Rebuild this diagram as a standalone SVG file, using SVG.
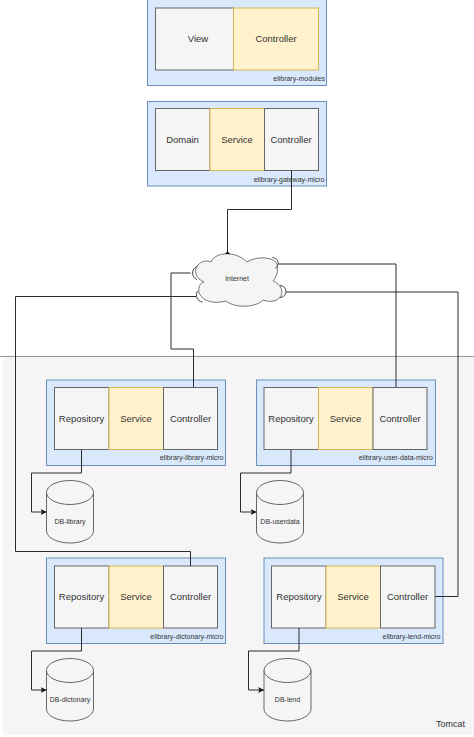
<svg xmlns="http://www.w3.org/2000/svg" width="474" height="737" viewBox="0 0 474 737">
<style>
text{font-family:"Liberation Sans",Arial,sans-serif;fill:#333}
.wrap{fill:#dae8fc;stroke:#6c8ebf;stroke-width:1}
.gray{fill:#f5f5f5;stroke:#666;stroke-width:1}
.yellow{fill:#fff2cc;stroke:#d6b656;stroke-width:1}
.lbl{font-size:9.5px;text-anchor:middle}
.small{font-size:7px}
.end{text-anchor:end}
.mid{text-anchor:middle}
.db{fill:#f5f5f5;stroke:#666;stroke-width:1}
.dbtop{fill:none;stroke:#666;stroke-width:1}
.conn{fill:none;stroke:#2b2b2b;stroke-width:1}
.req{fill:none;stroke:#444;stroke-width:1}
</style>
<defs>
<marker id="arrow" markerUnits="userSpaceOnUse" markerWidth="7" markerHeight="7" refX="6" refY="3.5" orient="auto">
<path d="M0 0.5L6 3.5L0 6.5L1.5 3.5Z" fill="#111"/>
</marker>
</defs>

<g id="tomcat">
<rect x="3" y="357" width="471" height="378" fill="#f5f5f5"/>
<path d="M0 356.5H474" fill="none" stroke="#999"/>
<text x="465" y="727" font-size="9" class="end">Tomcat</text>
</g>

<g id="elibrary-modules">
<rect class="wrap" x="147.5" y="-1" width="179" height="86.5"/>
<rect class="gray" x="155.5" y="8" width="78" height="62"/>
<rect class="yellow" x="233.5" y="8" width="85" height="62"/>
<text class="lbl" x="198" y="41.5">View</text>
<text class="lbl" x="276" y="41.5">Controller</text>
<text class="small end" x="325" y="81">elibrary-modules</text>
</g>

<g id="elibrary-gateway-micro">
<rect class="wrap" x="147.5" y="101.5" width="179" height="84.5"/>
<rect class="gray" x="155.5" y="108.5" width="54.5" height="62"/>
<rect class="yellow" x="210" y="108.5" width="54.5" height="62"/>
<rect class="gray" x="264.5" y="108.5" width="54" height="62"/>
<text class="lbl" x="182.5" y="142.5">Domain</text>
<text class="lbl" x="237" y="142.5">Service</text>
<text class="lbl" x="291" y="142.5">Controller</text>
<text class="small end" x="324.5" y="181.5">elibrary-gateway-micro</text>
</g>

<g id="internet">
<path d="M211 262C213 256 222 253 229 254C236 254 243 258 247 262C254 257 270 256 276 262C279 268 278 274 273 281C281 284 285 293 279 298C276 302 268 302 263 300C257 307 236 309 226 301C215 304 203 302 199 293C198 287 200 283 204 282C196 279 193 270 198 265C201 261 207 260 211 262Z" fill="#f5f5f5" stroke="#777"/>
<text class="small mid" x="237" y="281">Internet</text>
</g>

<g id="elibrary-library-micro">
<rect class="wrap" x="46.5" y="380" width="179" height="85.5"/>
<rect class="gray" x="54.5" y="387.5" width="54.5" height="62"/>
<rect class="yellow" x="109" y="387.5" width="54.5" height="62"/>
<rect class="gray" x="163.5" y="387.5" width="54" height="62"/>
<text class="lbl" x="81.5" y="421.5">Repository</text>
<text class="lbl" x="136" y="421.5">Service</text>
<text class="lbl" x="190.5" y="421.5">Controller</text>
<text class="small end" x="223.5" y="460">elibrary-library-micro</text>
</g>

<g id="elibrary-user-data-micro">
<rect class="wrap" x="256.5" y="380" width="179" height="85.5"/>
<rect class="gray" x="264" y="387.5" width="54.5" height="62"/>
<rect class="yellow" x="318.5" y="387.5" width="54.5" height="62"/>
<rect class="gray" x="373" y="387.5" width="54" height="62"/>
<text class="lbl" x="291" y="421.5">Repository</text>
<text class="lbl" x="345.5" y="421.5">Service</text>
<text class="lbl" x="400" y="421.5">Controller</text>
<text class="small end" x="433" y="460">elibrary-user-data-micro</text>
</g>

<g id="elibrary-dictonary-micro">
<rect class="wrap" x="46.5" y="558" width="179" height="85.5"/>
<rect class="gray" x="54.5" y="566" width="54.5" height="62"/>
<rect class="yellow" x="109" y="566" width="54.5" height="62"/>
<rect class="gray" x="163.5" y="566" width="54" height="62"/>
<text class="lbl" x="81.5" y="600">Repository</text>
<text class="lbl" x="136" y="600">Service</text>
<text class="lbl" x="190.5" y="600">Controller</text>
<text class="small end" x="223.5" y="638.5">elibrary-dictonary-micro</text>
</g>

<g id="elibrary-lend-micro">
<rect class="wrap" x="264" y="558" width="179" height="85.5"/>
<rect class="gray" x="271.5" y="566" width="54.5" height="62"/>
<rect class="yellow" x="326" y="566" width="54.5" height="62"/>
<rect class="gray" x="380.5" y="566" width="54.5" height="62"/>
<text class="lbl" x="299" y="600">Repository</text>
<text class="lbl" x="353" y="600">Service</text>
<text class="lbl" x="407.5" y="600">Controller</text>
<text class="small end" x="440.5" y="638.5">elibrary-lend-micro</text>
</g>

<g id="db-library">
<path class="db" d="M46.5 492.5A23.5 12 0 0 1 93.5 492.5V531A23.5 12 0 0 1 46.5 531Z"/>
<path class="dbtop" d="M46.5 492.5A23.5 12 0 0 0 93.5 492.5"/>
<text class="small mid" x="70" y="523.5">DB-library</text>
</g>
<g id="db-userdata">
<path class="db" d="M256.5 492.5A23.5 12 0 0 1 303.5 492.5V531A23.5 12 0 0 1 256.5 531Z"/>
<path class="dbtop" d="M256.5 492.5A23.5 12 0 0 0 303.5 492.5"/>
<text class="small mid" x="280" y="523.5">DB-userdata</text>
</g>
<g id="db-dictonary">
<path class="db" d="M46.5 670.5A23.5 12 0 0 1 93.5 670.5V709A23.5 12 0 0 1 46.5 709Z"/>
<path class="dbtop" d="M46.5 670.5A23.5 12 0 0 0 93.5 670.5"/>
<text class="small mid" x="70" y="702">DB-dictonary</text>
</g>
<g id="db-lend">
<path class="db" d="M264 670.5A23.5 12 0 0 1 311 670.5V709A23.5 12 0 0 1 264 709Z"/>
<path class="dbtop" d="M264 670.5A23.5 12 0 0 0 311 670.5"/>
<text class="small mid" x="287.5" y="702">DB-lend</text>
</g>

<g id="connectors">
<path class="conn" d="M291.5 170.5V209.5H227.5V253"/>
<path d="M225 254H230L227.5 251Z" fill="#111"/>
<path class="conn" d="M193.5 387.5V349H171V273H190.5"/>
<path class="conn" d="M396 387.5V264H278.5"/>
<path class="conn" d="M190.5 566V551.500H15.500V296.500H196"/>
<path class="conn" d="M435 596.500H458V292H286"/>
<path class="req" d="M197 266.500A7 7 0 0 0 197 279.500"/>
<path class="req" d="M197.500 291C195 296 197 301 202.500 302"/>
<path class="req" d="M272.500 257.500C278 258 281 264 275 268.500"/>
<path class="req" d="M280 285.500A6 6 0 0 1 280 297.500"/>
<path class="conn" marker-end="url(#arrow)" d="M81.500 449.500V473H31.500V512H46.500"/>
<path class="conn" marker-end="url(#arrow)" d="M291 449.500V473H240.500V512H256.500"/>
<path class="conn" marker-end="url(#arrow)" d="M81.500 628V651H31.500V690H46.500"/>
<path class="conn" marker-end="url(#arrow)" d="M299 628V651H248.500V690H264"/>
</g>
</svg>
